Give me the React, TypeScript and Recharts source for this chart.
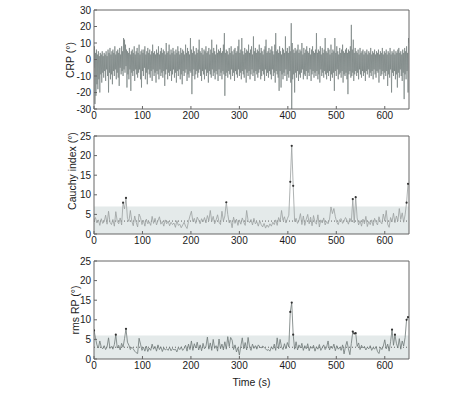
import { Label, Line, LineChart, ReferenceArea, ReferenceLine, XAxis, YAxis } from 'recharts';

// CRP, one sample per second (deg)
const crp = [
  -5, 8, -27, 4, -22, 6, -15, 3, -18, 5, -12, 2, -20, 4, -9, 3, -14, 5, -8, 2,
  -11, 4, -7, 3, -13, 5, -6, 2, -10, 6, -20, 4, -8, 7, -12, 3, -9, 5, -15, 6,
  -7, 4, -10, 8, -6, 3, -12, 5, -8, 6, -11, 4, -16, 7, -5, 3, -9, 8, -7, 5,
  -10, 13, -6, 12, -8, 9, -4, 6, -17, 5, -9, 4, -12, 7, -6, 3, -19, 5, -8, 6,
  -10, 4, -7, 8, -13, 3, -6, 5, -9, 7, -11, 4, -8, 9, -6, 3, -12, 5, -17, 6,
  -7, 4, -10, 6, -5, 8, -12, 3, -8, 5, -15, 7, -6, 4, -9, 6, -11, 3, -7, 5,
  -13, 9, -6, 4, -10, 5, -8, 3, -14, 6, -7, 4, -9, 8, -12, 3, -6, 5, -10, 7,
  -8, 4, -11, 6, -7, 5, -16, 3, -9, 10, -6, 4, -12, 5, -8, 9, -10, 3, -7, 6,
  -13, 4, -9, 7, -6, 5, -11, 3, -8, 6, -14, 4, -7, 8, -10, 5, -6, 3, -12, 7,
  -9, 4, -15, 6, -7, 5, -10, 3, -8, 9, -6, 4, -13, 7, -9, 5, -11, 3, -7, 13,
  -8, 6, -21, 4, -10, 8, -6, 5, -12, 3, -9, 7, -7, 4, -11, 6, -8, 12, -6, 5,
  -10, 4, -13, 7, -7, 3, -9, 6, -12, 5, -6, 8, -10, 4, -8, 5, -14, 7, -7, 3,
  -9, 6, -11, 12, -6, 4, -10, 7, -8, 5, -12, 3, -7, 9, -9, 4, -13, 6, -6, 5,
  -10, 7, -8, 4, -12, 5, -7, 9, -9, 16, -22, 4, -10, 6, -8, 5, -11, 3, -7, 7,
  -9, 4, -12, 8, -6, 5, -10, 3, -8, 6, -13, 7, -7, 4, -9, 5, -11, 8, -6, 12,
  -10, 4, -8, 6, -12, 13, -7, 5, -9, 3, -11, 7, -6, 4, -14, 6, -8, 5, -10, 9,
  -7, 4, -12, 6, -9, 8, -6, 3, -10, 14, -8, 5, -13, 7, -7, 4, -9, 6, -11, 5,
  -8, 9, -6, 4, -12, 7, -10, 5, -7, 3, -9, 6, -13, 8, -6, 12, -10, 4, -8, 5,
  -11, 7, -7, 4, -9, 6, -12, 8, -6, 5, -10, 3, -8, 9, -14, 16, -7, 5, -9, 6,
  -11, 4, -19, 8, -7, 5, -17, 3, -9, 7, -12, 6, -8, 4, -10, 14, -6, 5, -13, 7,
  -9, 4, -11, 8, -7, 5, -14, 22, -30, 10, -12, 6, -9, 4, -20, 7, -8, 5, -11, 6,
  -7, 9, -13, 4, -9, 6, -11, 5, -8, 10, -6, 3, -12, 7, -9, 4, -10, 6, -7, 8,
  -12, 5, -8, 4, -10, 7, -6, 3, -13, 6, -9, 8, -7, 5, -11, 4, -8, 6, -10, 16,
  -7, 4, -12, 6, -9, 5, -14, 8, -6, 3, -10, 7, -8, 4, -11, 6, -7, 13, -9, 5,
  -12, 4, -8, 7, -10, 6, -7, 3, -13, 9, -9, 4, -11, 6, -8, 5, -19, 13, -7, 4,
  -10, 8, -6, 5, -12, 3, -9, 7, -8, 4, -11, 6, -7, 9, -14, 5, -9, 4, -10, 6,
  -8, 7, -12, 4, -21, 6, -9, 5, -7, 8, -11, 21, -10, 6, -8, 12, -13, 4, -9, 7,
  -7, 5, -10, 4, -8, 6, -12, 3, -6, 7, -9, 4, -11, 5, -7, 6, -10, 3, -8, 5,
  -13, 4, -7, 6, -9, 3, -6, 5, -11, 4, -8, 7, -10, 3, -7, 5, -12, 4, -6, 6,
  -9, 3, -11, 5, -7, 4, -8, 6, -14, 3, -6, 5, -10, 4, -9, 7, -7, 3, -12, 5,
  -8, 4, -10, 6, -7, 3, -16, 5, -9, 4, -11, 7, -6, 3, -20, 5, -8, 4, -10, 6,
  -7, 3, -12, 5, -9, 4, -17, 6, -8, 7, -11, 4, -6, 5, -10, 3, -13, 6, -8, 4,
  -24, 7, -9, 5, -12, 8, -7, 4, -20, 13, 10,
];

// Cauchy index, one value every 3 s (deg)
const cauchy = [
  3.5, 4.2, 2.8, 3.6, 2.2, 3.9, 2.7, 3.1, 4.8, 2.5,
  5.8, 3.0, 2.4, 3.7, 2.0, 5.7, 3.2, 2.6, 4.1, 2.3,
  8.0, 6.4, 9.2, 4.0, 3.2, 6.0, 3.3, 2.1, 4.6, 3.0,
  1.8, 5.1, 4.2, 2.4, 3.5, 2.0, 3.8, 2.6, 3.1, 2.2,
  4.5, 2.7, 4.0, 2.3, 3.4, 4.4, 2.5, 3.2, 2.0, 3.6,
  2.6, 3.3, 2.1, 3.0, 2.4, 2.8, 1.7, 3.4, 2.2, 2.5,
  1.6, 2.3, 3.0, 2.0, 1.4, 3.2, 4.6, 5.8, 3.2, 4.0,
  2.7, 4.3, 3.5, 2.6, 3.9, 3.1, 4.2, 2.8, 4.7, 3.4,
  6.0, 3.2, 4.5, 2.6, 3.6, 4.9, 3.0, 2.4, 5.8, 3.3,
  4.6, 8.1, 5.0, 2.8, 3.5, 1.6, 4.3, 2.7, 3.8, 2.2,
  3.6, 2.5, 4.1, 3.0, 2.2, 6.0, 3.4, 2.9, 3.7, 2.3,
  4.0, 2.6, 3.1, 2.0, 3.4, 2.4, 1.8, 2.7, 1.5, 2.3,
  1.7, 2.6, 2.0, 3.0, 2.4, 3.6, 2.2, 4.2, 3.1, 6.0,
  3.5, 4.4, 2.8, 3.9, 4.8, 13.3, 22.5, 12.3, 3.2, 4.0,
  2.7, 3.5, 5.2, 2.4, 4.6, 2.2, 3.8, 5.0, 2.6, 4.3,
  2.1, 4.7, 3.0, 2.5, 4.9, 1.8, 3.6, 2.8, 4.1, 2.3,
  3.2, 2.6, 3.8, 6.9, 5.2, 6.5, 4.4, 3.0, 2.4, 3.7,
  3.9, 2.7, 3.3, 4.2, 3.5, 2.5, 4.0, 3.1, 8.9, 2.8,
  9.4, 4.1, 2.3, 3.4, 2.0, 3.8, 2.6, 4.5, 1.9, 3.2,
  2.4, 3.6, 2.1, 4.0, 3.0, 2.3, 4.4, 3.1, 2.6, 5.1,
  3.3, 6.0, 2.5, 1.7, 4.2, 3.1, 5.3, 2.9, 4.6, 3.3,
  6.5, 3.7, 5.4, 3.0, 4.9, 8.0, 12.8,
];

// rms relative phase, one value every 3 s (deg)
const rmsRp = [
  7.3, 5.4, 3.6, 2.8, 4.6, 3.0, 2.6, 3.4, 2.4, 3.1,
  5.4, 2.7, 3.2, 2.5, 3.7, 6.2, 2.8, 3.5, 2.3, 4.0,
  3.0, 5.2, 7.7, 4.3, 3.5, 2.4, 3.0, 2.6, 2.0, 1.6,
  1.4, 5.3, 3.8, 2.2, 3.0, 2.0, 3.3, 1.9, 2.8, 2.2,
  3.8, 2.5, 3.2, 2.0, 3.6, 2.4, 3.1, 1.9, 2.9, 2.3,
  2.6, 2.2, 3.0, 2.1, 2.7, 2.3, 2.5, 1.8, 2.9, 2.4,
  3.1, 2.2, 2.7, 3.5, 2.0, 3.8, 2.4, 4.6, 2.2, 3.9,
  2.8, 4.3, 2.3, 3.6, 2.1, 4.0, 2.6, 3.2, 5.6, 2.5,
  4.1, 2.2, 5.0, 2.7, 3.4, 2.0, 5.1, 2.6, 3.8, 2.3,
  4.4, 2.5, 5.7, 3.2, 5.5, 4.8, 2.4, 3.6, 1.8, 2.9,
  1.0, 3.3, 5.4, 2.6, 4.2, 2.3, 5.5, 3.1, 2.2, 3.8,
  2.7, 3.4, 2.5, 3.6, 3.1, 2.8, 3.3, 3.0, 2.6, 2.2,
  2.4, 2.0, 3.1, 2.5, 3.8, 2.2, 5.4, 2.6, 5.0, 3.1,
  2.4, 3.9, 2.6, 4.2, 3.1, 12.0, 14.4, 6.2, 2.5, 4.4,
  2.3, 3.6, 2.8, 4.0, 2.2, 3.4, 2.6, 3.9, 2.1, 3.2,
  2.7, 3.5, 2.0, 3.1, 2.5, 3.7, 2.2, 2.9, 3.6, 2.4,
  3.0, 4.6, 2.3, 3.3, 2.7, 3.8, 2.1, 3.4, 2.5, 3.0,
  2.2, 3.6, 1.3, 3.2, 4.5, 2.6, 1.1, 4.0, 7.0, 6.5,
  6.6, 3.2, 4.1, 2.4, 3.5, 2.8, 3.2, 2.3, 3.0, 2.6,
  3.4, 2.2, 2.9, 2.5, 3.2, 1.9, 1.4, 3.0, 2.4, 3.3,
  4.9, 2.6, 3.8, 2.0, 4.4, 7.5, 3.5, 6.2, 4.0, 2.8,
  5.2, 2.5, 4.6, 3.3, 5.5, 10.0, 10.7,
];

const timeTicks = [0, 100, 200, 300, 400, 500, 600];
const crpTicks = [-30, -20, -10, 0, 10, 20, 30];
const indexTicks = [0, 5, 10, 15, 20, 25];

const FONT = '"Liberation Sans", Arial, sans-serif';
const AXIS = '#666';
const TEXT = '#1a1a1a';

const toRows = (vals: number[], dt: number) => vals.map((v, i) => ({ t: i * dt, v }));

type PanelProps = {
  rows: { t: number; v: number }[];
  yDomain: [number, number];
  yTicks: number[];
  yLabel: string;
  labelX: number;
  labelY: number;
  color: string;
  width?: number;
  band?: number;
  mean?: number;
  threshold?: number;
  timeLabel?: boolean;
  top: number;
};

function Panel({
  rows, yDomain, yTicks, yLabel, labelX, labelY, color, width = 0.8,
  band, mean, threshold, timeLabel, top,
}: PanelProps) {
  const height = timeLabel ? 145 : 125;
  const dot =
    threshold === undefined
      ? false
      : (p: any) =>
          p.payload.v > threshold ? (
            <circle key={p.index} cx={p.cx} cy={p.cy} r={1.1} fill="#333" />
          ) : (
            <g key={p.index} />
          );

  return (
    <div style={{ position: 'absolute', left: 0, top }}>
      <LineChart width={474} height={height} data={rows} margin={{ top: top === 0 ? 9 : 10, right: 64, bottom: 2, left: 0 }}>
        {band !== undefined && (
          <ReferenceArea xAxisId="b" yAxisId="l" x1={0} x2={650} y1={0} y2={band} fill="#e4eaea" fillOpacity={1} stroke="none" />
        )}
        {mean !== undefined && (
          <ReferenceLine xAxisId="b" yAxisId="l" y={mean} stroke="#444" strokeWidth={0.8} strokeDasharray="1 2" />
        )}
        <XAxis
          xAxisId="b"
          dataKey="t"
          type="number"
          domain={[0, 650]}
          ticks={timeTicks}
          allowDataOverflow
          height={timeLabel ? 34 : 14}
          tickSize={-3}
          tickMargin={6}
          stroke={AXIS}
          tick={{ fontSize: 10, fill: TEXT, fontFamily: FONT }}
        >
          {timeLabel && <Label value="Time (s)" position="insideBottom" offset={7} style={{ fontSize: 10.5, fill: TEXT, fontFamily: FONT }} />}
        </XAxis>
        <XAxis
          xAxisId="top"
          orientation="top"
          dataKey="t"
          type="number"
          domain={[0, 650]}
          ticks={timeTicks}
          height={1}
          tickSize={-3}
          tick={false}
          stroke={AXIS}
        />
        <YAxis
          yAxisId="l"
          domain={yDomain}
          ticks={yTicks}
          allowDataOverflow
          width={94}
          tickSize={-3}
          tickMargin={6}
          stroke={AXIS}
          tick={{ fontSize: 10, fill: TEXT, fontFamily: FONT }}
        >
          <Label
            content={({ viewBox }: any) => (
              <text
                x={labelX}
                y={viewBox.y + labelY}
                transform={`rotate(-90 ${labelX} ${viewBox.y + labelY})`}
                textAnchor="middle"
                dominantBaseline="central"
                style={{ fontSize: 10.5, fill: TEXT, fontFamily: FONT }}
              >
                {yLabel}
              </text>
            )}
          />
        </YAxis>
        <YAxis
          yAxisId="r"
          orientation="right"
          domain={yDomain}
          ticks={yTicks}
          width={1}
          tickSize={-3}
          tick={false}
          stroke={AXIS}
        />
        <Line
          xAxisId="b"
          yAxisId="l"
          dataKey="v"
          type="linear"
          stroke={color}
          strokeWidth={width}
          dot={dot}
          activeDot={false}
          isAnimationActive={false}
        />
      </LineChart>
    </div>
  );
}

export default function App() {
  return (
    <div style={{ position: 'absolute', left: 0, top: 0, width: 474, height: 395, background: '#fff' }}>
      <Panel
        top={0}
        rows={toRows(crp, 1)}
        yDomain={[-30, 30]}
        yTicks={crpTicks}
        yLabel="CRP (°)"
        labelX={70}
        labelY={50}
        color="#77817f"
        width={0.7}
      />
      <Panel
        top={125}
        rows={toRows(cauchy, 3)}
        yDomain={[0, 25]}
        yTicks={indexTicks}
        yLabel="Cauchy index (°)"
        labelX={72}
        labelY={35}
        color="#9aa09f"
        band={7}
        mean={3.3}
        threshold={7}
      />
      <Panel
        top={250}
        rows={toRows(rmsRp, 3)}
        yDomain={[0, 25]}
        yTicks={indexTicks}
        yLabel="rms RP (°)"
        labelX={75}
        labelY={49}
        color="#6f7877"
        band={6}
        mean={3}
        threshold={6}
        timeLabel
      />
    </div>
  );
}
